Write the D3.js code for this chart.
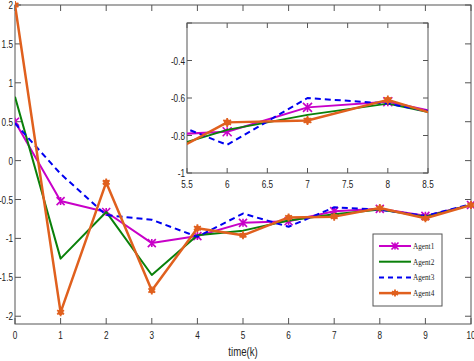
<!DOCTYPE html>
<html>
<head>
<meta charset="utf-8">
<script src="https://cdn.jsdelivr.net/npm/d3@7"></script>
<style>
  body { margin: 0; background: #fff; }
  text { font-family: "Liberation Sans", Arial, sans-serif; }
</style>
</head>
<body>
<svg id="canvas" width="474" height="361"></svg>
<script>
let steps = [0, 1, 2, 3, 4, 5, 6, 7, 8, 9, 10]
let agent1 = [0.50, -0.52, -0.66, -1.06, -0.97, -0.80, -0.78, -0.65, -0.62, -0.71, -0.57]
let agent2 = [0.82, -1.26, -0.66, -1.47, -0.96, -0.90, -0.77, -0.69, -0.63, -0.72, -0.57]
let agent3 = [0.48, -0.17, -0.70, -0.76, -0.98, -0.68, -0.85, -0.60, -0.63, -0.71, -0.56]
let agent4 = [2.00, -1.95, -0.28, -1.67, -0.87, -0.96, -0.73, -0.72, -0.61, -0.74, -0.57]
let names = ['Agent1', 'Agent2', 'Agent3', 'Agent4']
let xTicks = [0, 1, 2, 3, 4, 5, 6, 7, 8, 9, 10]
let yTicks = [-2, -1.5, -1, -0.5, 0, 0.5, 1, 1.5, 2]
let insetXTicks = [5.5, 6, 6.5, 7, 7.5, 8, 8.5]
let insetYTicks = [-1, -0.8, -0.6, -0.4, -0.2]

let series = [
    {name: names[0], values: agent1, color: '#c800c8', width: 2, dash: null, marker: 'x'},
    {name: names[1], values: agent2, color: '#0a800a', width: 2, dash: null, marker: null},
    {name: names[2], values: agent3, color: '#0000f0', width: 2, dash: '6,4', marker: null},
    {name: names[3], values: agent4, color: '#e0601e', width: 2.5, dash: null, marker: 'star'}
]

let canvas = d3.select('#canvas')
let axisColor = '#555'

let drawMarker = (g, kind, color, px, py, s) => {
    if (kind === 'x') {
        g.append('path')
            .attr('d', `M${px - s},${py - s}L${px + s},${py + s}M${px - s},${py + s}L${px + s},${py - s}M${px},${py - s}L${px},${py + s}`)
            .attr('stroke', color).attr('stroke-width', 1.6).attr('fill', 'none')
    } else if (kind === 'star') {
        g.append('circle').attr('cx', px).attr('cy', py).attr('r', s * 0.7).attr('fill', color)
        let d = ''
        for (let a of [90, 30, 150]) {
            let r = a * Math.PI / 180
            d += `M${px - s * Math.cos(r)},${py - s * Math.sin(r)}L${px + s * Math.cos(r)},${py + s * Math.sin(r)}`
        }
        g.append('path').attr('d', d).attr('stroke', color).attr('stroke-width', 1.8).attr('fill', 'none')
    }
}

// narrow tick label: squeeze the regular sans horizontally
let label = (g, px, py, anchor, txt) => {
    g.append('text')
        .attr('transform', `translate(${px},${py}) scale(0.78,1)`)
        .attr('text-anchor', anchor)
        .attr('font-size', 10.5).attr('fill', '#222').text(txt)
}

// boxed axes frame with inward ticks on all four sides
let drawFrame = (g, x, y, xt, yt, xLabels, yLabels, tickLen) => {
    let [x0, x1] = x.range()
    let [y0, y1] = y.range()
    g.append('rect')
        .attr('x', x0).attr('y', y1).attr('width', x1 - x0).attr('height', y0 - y1)
        .attr('fill', 'none').attr('stroke', axisColor).attr('stroke-width', 1)
    xt.forEach(v => {
        g.append('line').attr('x1', x(v)).attr('x2', x(v)).attr('y1', y0).attr('y2', y0 - tickLen)
            .attr('stroke', axisColor)
        g.append('line').attr('x1', x(v)).attr('x2', x(v)).attr('y1', y1).attr('y2', y1 + tickLen)
            .attr('stroke', axisColor)
    })
    yt.forEach(v => {
        g.append('line').attr('x1', x0).attr('x2', x0 + tickLen).attr('y1', y(v)).attr('y2', y(v))
            .attr('stroke', axisColor)
        g.append('line').attr('x1', x1).attr('x2', x1 - tickLen).attr('y1', y(v)).attr('y2', y(v))
            .attr('stroke', axisColor)
    })
    xLabels.forEach(v => label(g, x(v), y0 + 15, 'middle', v))
    yLabels.forEach(v => label(g, x0 - 2, y(v) + 4, 'end', v))
}

let drawSeries = (g, x, y, clipId, markerIdx, s) => {
    let plot = g.append('g').attr('clip-path', `url(#${clipId})`)
    let line = d3.line().x((d, i) => x(steps[i])).y(d => y(d))
    series.forEach(sr => {
        plot.append('path')
            .datum(sr.values)
            .attr('d', line)
            .attr('fill', 'none')
            .attr('stroke', sr.color)
            .attr('stroke-width', sr.width)
            .attr('stroke-dasharray', sr.dash)
            .attr('stroke-linejoin', 'round')
        if (sr.marker) {
            sr.values.forEach((v, i) => {
                if (markerIdx.includes(i)) drawMarker(plot, sr.marker, sr.color, x(steps[i]), y(v), s)
            })
        }
    })
}

// main axes
let x = d3.scaleLinear().domain([0, 10]).range([15, 471])
let y = d3.scaleLinear().domain([-2.1, 2.0]).range([324, 5])

let defs = canvas.append('defs')
defs.append('clipPath').attr('id', 'clipMain').append('rect')
    .attr('x', 15).attr('y', 0).attr('width', 459).attr('height', 325)

let main = canvas.append('g')
drawFrame(main, x, y, xTicks, yTicks, xTicks, yTicks, 6)
drawSeries(main, x, y, 'clipMain', steps.map((d, i) => i), 4)

main.append('text')
    .attr('transform', 'translate(243,356) scale(0.8,1)')
    .attr('text-anchor', 'middle')
    .attr('font-size', 12).attr('fill', '#222').text('time(k)')

// inset
let xi = d3.scaleLinear().domain([5.5, 8.5]).range([187, 428])
let yi = d3.scaleLinear().domain([-1, -0.2]).range([173, 23])

defs.append('clipPath').attr('id', 'clipInset').append('rect')
    .attr('x', 187).attr('y', 23).attr('width', 241).attr('height', 150)

let inset = canvas.append('g')
inset.append('rect').attr('x', 187).attr('y', 23).attr('width', 241).attr('height', 150).attr('fill', '#fff')
drawFrame(inset, xi, yi, insetXTicks, insetYTicks, insetXTicks, [-1, -0.8, -0.6, -0.4], 5)
drawSeries(inset, xi, yi, 'clipInset', [6, 7, 8], 4.5)

// legend
let legend = canvas.append('g')
legend.append('rect').attr('x', 373).attr('y', 234).attr('width', 69).attr('height', 72)
    .attr('fill', '#fff').attr('stroke', axisColor).attr('stroke-width', 1)
series.forEach((sr, i) => {
    let ly = 246 + i * 15.7
    legend.append('line').attr('x1', 379).attr('x2', 411).attr('y1', ly).attr('y2', ly)
        .attr('stroke', sr.color).attr('stroke-width', sr.width).attr('stroke-dasharray', sr.dash ? '5,4' : null)
    if (sr.marker) drawMarker(legend, sr.marker, sr.color, 395, ly, 3.5)
    legend.append('text')
        .attr('transform', `translate(413,${ly + 3}) scale(0.85,1)`)
        .style('font-family', '"Liberation Serif", "DejaVu Serif", serif')
        .attr('font-size', 8.5)
        .attr('fill', '#222').text(sr.name)
})
</script>
</body>
</html>
